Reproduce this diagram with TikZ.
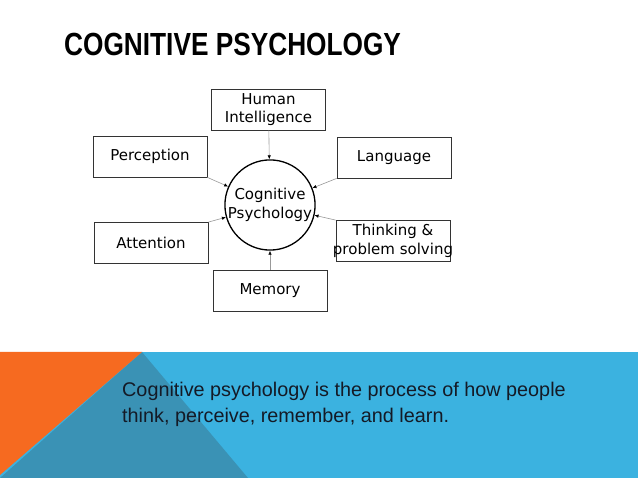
\documentclass[tikz,border=0pt]{standalone}
\usepackage{fontspec}
\setmainfont{DejaVu Sans}
\newfontfamily\titlefont[FakeStretch=0.82]{Liberation Sans}
\newfontfamily\bodyfont{Liberation Sans}
\usepackage{xcolor}
\usetikzlibrary{arrows.meta, positioning}
\definecolor{bandblue}{RGB}{59,178,224}
\definecolor{bandteal}{RGB}{58,146,181}
\definecolor{bandorange}{RGB}{246,106,32}
\definecolor{inkdark}{RGB}{20,26,38}

\begin{document}
\begin{tikzpicture}[
  x=1pt, y=-1pt,
  box/.style={
    draw=black!80,
    line width=0.8pt,
    minimum width=114pt,
    minimum height=41pt,
    inner sep=0pt,
    align=center,
    font={\fontsize{15}{18.5}\selectfont}
  },
  hub/.style={
    circle,
    draw=black,
    line width=1.3pt,
    minimum size=86pt,
    inner sep=0pt,
    align=center,
    font={\fontsize{15}{18.5}\selectfont}
  },
  arrow/.style={-{Latex[length=4pt, width=3.5pt, black]}, gray!80, line width=0.6pt}
]
\useasboundingbox (0,0) rectangle (638,478);
\fill[white] (0,0) rectangle (638,478);

% bottom band
\fill[bandblue] (0,352) rectangle (638,478);
\fill[bandteal] (142,352) -- (248,478) -- (0,478) -- cycle;
\fill[bandorange] (0,352) -- (142,352) -- (0,475) -- cycle;

% title
\node[anchor=base west, inner sep=0pt, font={\titlefont\bfseries\fontsize{32}{36}\selectfont}]
  (title) at (64,56) {COGNITIVE PSYCHOLOGY};

% diagram
\node[hub] (cog) at (270,205) {Cognitive\\Psychology};
\node[box] (human) at (268.5,109.5) {Human\\Intelligence};
\node[box] (perc) at (150,156.5) {Perception};
\node[box] (lang) at (394,157.5) {Language};
\node[box] (attn) at (151,243) {Attention};
\node[box] (think) at (393,241) {Thinking \&\\\makebox[0pt]{problem solving}};
\node[box] (mem) at (270,290.5) {Memory};

\draw[arrow] (human) -- (cog);
\draw[arrow] (perc.south east) -- (cog);
\draw[arrow] (lang.south west) -- (cog);
\draw[arrow] (attn.north east) -- (cog);
\draw[arrow] (think.north west) -- (cog);
\draw[arrow] (mem) -- (cog);

% description
\node[anchor=north west, inner sep=0pt, align=left, text=inkdark,
  font={\bodyfont\fontsize{19.8}{26}\selectfont}] (desc) at (122,381.5)
  {Cognitive psychology is the process of how people\\think, perceive, remember, and learn.};
\end{tikzpicture}
\end{document}
